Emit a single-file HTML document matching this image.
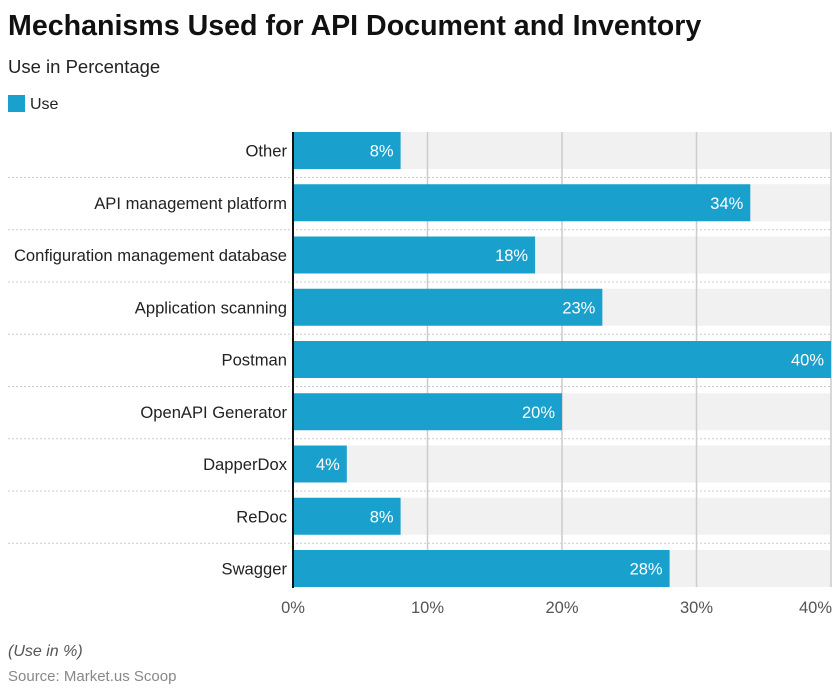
<!DOCTYPE html>
<html><head><meta charset="utf-8"><style>
body{margin:0;width:838px;height:693px;background:#fff;font-family:"Liberation Sans",sans-serif;overflow:hidden}
svg text{font-family:"Liberation Sans",sans-serif}
</style></head><body>
<svg id="chart" width="838" height="693">
<text x="8" y="35" font-size="28.6" font-weight="bold" fill="#111">Mechanisms Used for API Document and Inventory</text>
<text x="8" y="73" font-size="18.5" fill="#222">Use in Percentage</text>
<rect x="8" y="95" width="17" height="17" fill="#1aa0cc"/>
<text x="30" y="109" font-size="16" fill="#222">Use</text>
<g id="plot"></g>
<text x="8" y="656" font-size="16" font-style="italic" fill="#555">(Use in %)</text>
<text x="8" y="681" font-size="15" fill="#888">Source: Market.us Scoop</text>
</svg>
<script>
const categories=["Other","API management platform","Configuration management database","Application scanning","Postman","OpenAPI Generator","DapperDox","ReDoc","Swagger"];
const values=[8,34,18,23,40,20,4,8,28];
const ticks=[0,10,20,30,40];
const tickLabels=["0%","10%","20%","30%","40%"];
const NS="http://www.w3.org/2000/svg";
const g=document.getElementById('plot');
const x0=293,x1=831,xmax=40,top0=132,pitch=52.25,bh=37;
const xs=v=>x0+(x1-x0)*v/xmax;
const ys=i=>top0+i*pitch;
function el(t,a){const e=document.createElementNS(NS,t);for(const k in a)e.setAttribute(k,a[k]);g.appendChild(e);return e;}
categories.forEach((c,i)=>{
  const b=el('rect',{x:x0,y:ys(i),width:x1-x0,height:bh,fill:'#f1f1f1'});
  
  
  if(i<categories.length-1){
    const l=el('line',{x1:8,x2:x1,y1:ys(i)+bh+8.5,y2:ys(i)+bh+8.5,stroke:'#ccc','stroke-dasharray':'2,2'});
    
    
  }
});
ticks.forEach((t,i)=>{
  if(t>0){const l=el('line',{x1:xs(t),x2:xs(t),y1:top0,y2:ys(8)+bh,stroke:'#ccc','stroke-width':1.5});
  
  }
  const tx=el('text',{x:xs(t),y:613,'font-size':16.5,fill:'#555','text-anchor':t==40?'end':'middle'});
  if(t==40)tx.setAttribute('x',xs(t)+1);
  tx.textContent=tickLabels[i];
  
  
});
categories.forEach((c,i)=>{
  const b=el('rect',{x:x0,y:ys(i),width:xs(values[i])-x0,height:bh,fill:'#1aa0cc'});
  
  
  const v=el('text',{x:xs(values[i])-7,y:ys(i)+bh/2+6,'font-size':16.5,fill:'#fff','text-anchor':'end'});
  v.textContent=values[i]+'%';
  
  
  const t=el('text',{x:287,y:ys(i)+bh/2+6,'font-size':16.6,fill:'#222','text-anchor':'end'});
  t.textContent=c;
  
  
});
const ax=el('line',{x1:x0,x2:x0,y1:top0,y2:ys(8)+bh+1,stroke:'#111','stroke-width':2});


</script>
</body></html>
